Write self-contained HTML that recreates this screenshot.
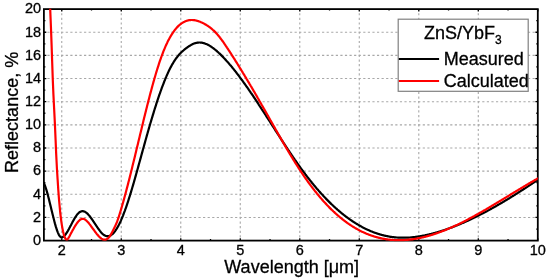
<!DOCTYPE html>
<html><head><meta charset="utf-8"><style>
html,body{margin:0;padding:0;background:#fff;}
svg{display:block;}
text{font-family:"Liberation Sans",Arial,sans-serif;fill:#000;stroke:#000;stroke-width:0.3px;}
</style></head><body>
<svg width="550" height="278" viewBox="0 0 550 278">
<defs><clipPath id="pc"><rect x="43.90" y="8.80" width="493.90" height="232.80"/></clipPath></defs>
<rect width="550" height="278" fill="#fff"/>
<g stroke="#a8a8a8" stroke-width="1.1" fill="none">
<line x1="61.75" y1="9.10" x2="61.75" y2="240.60" stroke-dasharray="2.20 2.430" stroke-dashoffset="0.600"/>
<line x1="121.26" y1="9.10" x2="121.26" y2="240.60" stroke-dasharray="2.20 2.430" stroke-dashoffset="0.600"/>
<line x1="180.76" y1="9.10" x2="180.76" y2="240.60" stroke-dasharray="2.20 2.430" stroke-dashoffset="0.600"/>
<line x1="240.27" y1="9.10" x2="240.27" y2="240.60" stroke-dasharray="2.20 2.430" stroke-dashoffset="0.600"/>
<line x1="299.78" y1="9.10" x2="299.78" y2="240.60" stroke-dasharray="2.20 2.430" stroke-dashoffset="0.600"/>
<line x1="359.28" y1="9.10" x2="359.28" y2="240.60" stroke-dasharray="2.20 2.430" stroke-dashoffset="0.600"/>
<line x1="418.79" y1="9.10" x2="418.79" y2="240.60" stroke-dasharray="2.20 2.430" stroke-dashoffset="0.600"/>
<line x1="478.29" y1="9.10" x2="478.29" y2="240.60" stroke-dasharray="2.20 2.430" stroke-dashoffset="0.600"/>
<line x1="43.90" y1="217.45" x2="537.80" y2="217.45" stroke-dasharray="2.20 2.377" stroke-dashoffset="1.058"/>
<line x1="43.90" y1="194.30" x2="537.80" y2="194.30" stroke-dasharray="2.20 2.377" stroke-dashoffset="1.058"/>
<line x1="43.90" y1="171.15" x2="537.80" y2="171.15" stroke-dasharray="2.20 2.377" stroke-dashoffset="1.058"/>
<line x1="43.90" y1="148.00" x2="537.80" y2="148.00" stroke-dasharray="2.20 2.377" stroke-dashoffset="1.058"/>
<line x1="43.90" y1="124.85" x2="537.80" y2="124.85" stroke-dasharray="2.20 2.377" stroke-dashoffset="1.058"/>
<line x1="43.90" y1="101.70" x2="537.80" y2="101.70" stroke-dasharray="2.20 2.377" stroke-dashoffset="1.058"/>
<line x1="43.90" y1="78.55" x2="537.80" y2="78.55" stroke-dasharray="2.20 2.377" stroke-dashoffset="1.058"/>
<line x1="43.90" y1="55.40" x2="537.80" y2="55.40" stroke-dasharray="2.20 2.377" stroke-dashoffset="1.058"/>
<line x1="43.90" y1="32.25" x2="537.80" y2="32.25" stroke-dasharray="2.20 2.377" stroke-dashoffset="1.058"/>
</g>
<path d="M61.75 240.60V238.20M61.75 9.10V11.50M91.50 240.60V239.10M91.50 9.10V10.60M121.26 240.60V238.20M121.26 9.10V11.50M151.01 240.60V239.10M151.01 9.10V10.60M180.76 240.60V238.20M180.76 9.10V11.50M210.52 240.60V239.10M210.52 9.10V10.60M240.27 240.60V238.20M240.27 9.10V11.50M270.02 240.60V239.10M270.02 9.10V10.60M299.78 240.60V238.20M299.78 9.10V11.50M329.53 240.60V239.10M329.53 9.10V10.60M359.28 240.60V238.20M359.28 9.10V11.50M389.03 240.60V239.10M389.03 9.10V10.60M418.79 240.60V238.20M418.79 9.10V11.50M448.54 240.60V239.10M448.54 9.10V10.60M478.29 240.60V238.20M478.29 9.10V11.50M508.05 240.60V239.10M508.05 9.10V10.60M537.80 240.60V238.20M537.80 9.10V11.50M43.90 229.03H45.40M537.80 229.03H536.30M43.90 217.45H46.30M537.80 217.45H535.40M43.90 205.88H45.40M537.80 205.88H536.30M43.90 194.30H46.30M537.80 194.30H535.40M43.90 182.72H45.40M537.80 182.72H536.30M43.90 171.15H46.30M537.80 171.15H535.40M43.90 159.57H45.40M537.80 159.57H536.30M43.90 148.00H46.30M537.80 148.00H535.40M43.90 136.43H45.40M537.80 136.43H536.30M43.90 124.85H46.30M537.80 124.85H535.40M43.90 113.27H45.40M537.80 113.27H536.30M43.90 101.70H46.30M537.80 101.70H535.40M43.90 90.12H45.40M537.80 90.12H536.30M43.90 78.55H46.30M537.80 78.55H535.40M43.90 66.97H45.40M537.80 66.97H536.30M43.90 55.40H46.30M537.80 55.40H535.40M43.90 43.82H45.40M537.80 43.82H536.30M43.90 32.25H46.30M537.80 32.25H535.40M43.90 20.67H45.40M537.80 20.67H536.30" stroke="#000" stroke-width="1.3" fill="none"/>
<rect x="43.90" y="9.10" width="493.90" height="231.50" fill="none" stroke="#000" stroke-width="1.8"/>
<g clip-path="url(#pc)" fill="none" stroke-linejoin="round" stroke-linecap="round">
<path d="M43.90 182.90L44.4 184.1L44.9 185.3L45.4 186.8L45.9 188.3L46.4 189.9L46.9 191.6L47.4 193.4L47.9 195.2L48.4 197.2L48.9 199.1L49.4 201.2L49.9 203.2L50.4 205.3L50.9 207.3L51.4 209.4L51.9 211.5L52.4 213.6L52.9 215.6L53.4 217.6L53.9 219.6L54.4 221.5L54.9 223.4L55.4 225.1L55.9 226.9L56.4 228.4L56.9 230.0L57.4 231.3L57.9 232.6L58.4 233.7L58.9 234.8L59.4 235.6L59.9 236.3L60.4 236.8L60.9 237.2L61.4 237.4L61.9 237.4L62.4 237.3L62.9 237.1L63.4 236.8L63.9 236.4L64.4 235.9L64.9 235.3L65.4 234.7L65.9 234.0L66.4 233.2L66.9 232.5L67.4 231.6L67.9 230.8L68.4 229.9L68.9 229.0L69.4 228.0L69.9 227.1L70.4 226.1L70.9 225.2L71.4 224.2L71.9 223.3L72.4 222.3L72.9 221.4L73.4 220.5L73.9 219.6L74.4 218.7L74.9 217.9L75.4 217.1L75.9 216.3L76.4 215.6L76.9 214.9L77.4 214.3L77.9 213.7L78.4 213.2L78.9 212.7L79.4 212.3L79.9 212.0L80.4 211.7L80.9 211.5L81.4 211.4L81.9 211.2L82.4 211.2L82.9 211.2L83.4 211.3L83.9 211.4L84.4 211.6L84.9 211.8L85.4 212.1L85.9 212.4L86.4 212.8L86.9 213.2L87.4 213.6L87.9 214.1L88.4 214.7L88.9 215.2L89.4 215.8L89.9 216.4L90.4 217.1L90.9 217.8L91.4 218.5L91.9 219.2L92.4 219.9L92.9 220.6L93.4 221.4L93.9 222.1L94.4 222.9L94.9 223.6L95.4 224.4L95.9 225.1L96.4 225.9L96.9 226.6L97.4 227.4L97.9 228.1L98.4 228.8L98.9 229.5L99.4 230.2L99.9 230.9L100.4 231.5L100.9 232.2L101.4 232.7L101.9 233.3L102.4 233.8L102.9 234.2L103.4 234.6L103.9 235.0L104.4 235.3L104.9 235.6L105.4 235.8L105.9 236.0L106.4 236.1L106.9 236.2L107.4 236.2L107.9 236.2L108.4 236.2L108.9 236.1L109.4 236.0L109.9 235.8L110.4 235.5L110.9 235.2L111.4 234.9L111.9 234.5L112.4 234.1L112.9 233.6L113.4 233.1L113.9 232.6L114.4 232.0L114.9 231.4L115.4 230.7L115.9 229.9L116.4 229.2L116.9 228.4L117.4 227.5L117.9 226.7L118.4 225.7L118.9 224.8L119.4 223.8L119.9 222.7L120.4 221.7L120.9 220.6L121.4 219.4L121.9 218.3L122.4 217.0L122.9 215.8L123.4 214.5L123.9 213.2L124.4 211.9L124.9 210.6L125.4 209.2L125.9 207.8L126.4 206.3L126.9 204.8L127.4 203.3L127.9 201.8L128.4 200.3L128.9 198.7L129.4 197.2L129.9 195.6L130.4 193.9L130.9 192.3L131.4 190.7L131.9 189.0L132.4 187.3L132.9 185.6L133.4 183.9L133.9 182.2L134.4 180.4L134.9 178.7L135.4 176.9L135.9 175.1L136.4 173.3L136.9 171.6L137.4 169.8L137.9 168.0L138.4 166.1L138.9 164.3L139.4 162.5L139.9 160.7L140.4 158.9L140.9 157.1L141.4 155.2L141.9 153.4L142.4 151.6L142.9 149.8L143.4 148.0L143.9 146.2L144.4 144.4L144.9 142.6L145.4 140.8L145.9 139.0L146.4 137.2L146.9 135.4L147.4 133.7L147.9 131.9L148.4 130.2L148.9 128.4L149.4 126.7L149.9 125.0L150.4 123.3L150.9 121.6L151.4 119.9L151.9 118.2L152.4 116.6L152.9 114.9L153.4 113.3L153.9 111.6L154.4 110.0L154.9 108.4L155.4 106.9L155.9 105.3L156.4 103.7L156.9 102.2L157.4 100.7L157.9 99.2L158.4 97.7L158.9 96.2L159.4 94.7L159.9 93.3L160.4 91.9L160.9 90.5L161.4 89.1L161.9 87.7L162.4 86.4L162.9 85.1L163.4 83.8L163.9 82.5L164.4 81.2L164.9 80.0L165.4 78.7L165.9 77.5L166.4 76.4L166.9 75.2L167.4 74.1L167.9 73.0L168.4 71.9L168.9 70.8L169.4 69.8L169.9 68.8L170.4 67.8L170.9 66.9L171.4 65.9L171.9 65.0L172.4 64.1L172.9 63.3L173.4 62.5L173.9 61.7L174.4 60.9L174.9 60.1L175.4 59.4L175.9 58.7L176.4 58.0L176.9 57.4L177.4 56.7L177.9 56.1L178.4 55.5L178.9 54.9L179.4 54.4L179.9 53.8L180.4 53.3L180.9 52.8L181.4 52.3L181.9 51.8L182.4 51.3L182.9 50.9L183.4 50.5L183.9 50.0L184.4 49.6L184.9 49.2L185.4 48.8L185.9 48.4L186.4 48.0L186.9 47.7L187.4 47.3L187.9 47.0L188.4 46.6L188.9 46.3L189.4 46.0L189.9 45.7L190.4 45.4L190.9 45.1L191.4 44.8L191.9 44.5L192.4 44.3L192.9 44.0L193.4 43.8L193.9 43.6L194.4 43.4L194.9 43.3L195.4 43.1L195.9 43.0L196.4 42.8L196.9 42.8L197.4 42.7L197.9 42.6L198.4 42.6L198.9 42.5L199.4 42.5L199.9 42.5L200.4 42.6L200.9 42.6L201.4 42.7L201.9 42.7L202.4 42.8L202.9 42.9L203.4 43.1L203.9 43.2L204.4 43.3L204.9 43.5L205.4 43.7L205.9 43.9L206.4 44.1L206.9 44.3L207.4 44.5L207.9 44.8L208.4 45.1L208.9 45.3L209.4 45.6L209.9 45.9L210.4 46.2L210.9 46.5L211.4 46.9L211.9 47.2L212.4 47.6L212.9 47.9L213.4 48.3L213.9 48.7L214.4 49.1L214.9 49.5L215.4 49.9L215.9 50.3L216.4 50.7L216.9 51.1L217.4 51.6L217.9 52.0L218.4 52.5L218.9 53.0L219.4 53.4L219.9 53.9L220.4 54.4L220.9 54.9L221.4 55.4L221.9 55.9L222.4 56.4L222.9 56.9L223.4 57.4L223.9 58.0L224.4 58.5L224.9 59.0L225.4 59.6L225.9 60.1L226.4 60.7L226.9 61.2L227.4 61.8L227.9 62.3L228.4 62.9L228.9 63.5L229.4 64.1L229.9 64.7L230.4 65.2L230.9 65.8L231.4 66.4L231.9 67.0L232.4 67.7L232.9 68.3L233.4 68.9L233.9 69.5L234.4 70.1L234.9 70.8L235.4 71.4L235.9 72.0L236.4 72.7L236.9 73.3L237.4 74.0L237.9 74.6L238.4 75.3L238.9 75.9L239.4 76.6L239.9 77.3L240.4 78.0L240.9 78.6L241.4 79.3L241.9 80.0L242.4 80.7L242.9 81.4L243.4 82.1L243.9 82.8L244.4 83.5L244.9 84.2L245.4 84.9L245.9 85.6L246.4 86.3L246.9 87.0L247.4 87.7L247.9 88.4L248.4 89.1L248.9 89.9L249.4 90.6L249.9 91.3L250.4 92.0L250.9 92.8L251.4 93.5L251.9 94.2L252.4 95.0L252.9 95.7L253.4 96.5L253.9 97.2L254.4 98.0L254.9 98.7L255.4 99.5L255.9 100.2L256.4 101.0L256.9 101.7L257.4 102.5L257.9 103.2L258.4 104.0L258.9 104.8L259.4 105.5L259.9 106.3L260.4 107.0L260.9 107.8L261.4 108.6L261.9 109.3L262.4 110.1L262.9 110.9L263.4 111.6L263.9 112.4L264.4 113.2L264.9 114.0L265.4 114.7L265.9 115.5L266.4 116.3L266.9 117.1L267.4 117.8L267.9 118.6L268.4 119.4L268.9 120.2L269.4 120.9L269.9 121.7L270.4 122.5L270.9 123.3L271.4 124.1L271.9 124.8L272.4 125.6L272.9 126.4L273.4 127.2L273.9 127.9L274.4 128.7L274.9 129.5L275.4 130.3L275.9 131.1L276.4 131.8L276.9 132.6L277.4 133.4L277.9 134.2L278.4 134.9L278.9 135.7L279.4 136.5L279.9 137.2L280.4 138.0L280.9 138.8L281.4 139.6L281.9 140.3L282.4 141.1L282.9 141.9L283.4 142.6L283.9 143.4L284.4 144.1L284.9 144.9L285.4 145.7L285.9 146.4L286.4 147.2L286.9 147.9L287.4 148.7L287.9 149.4L288.4 150.2L288.9 150.9L289.4 151.7L289.9 152.4L290.4 153.2L290.9 153.9L291.4 154.7L291.9 155.4L292.4 156.1L292.9 156.9L293.4 157.6L293.9 158.3L294.4 159.0L294.9 159.8L295.4 160.5L295.9 161.2L296.4 161.9L296.9 162.6L297.4 163.4L297.9 164.1L298.4 164.8L298.9 165.5L299.4 166.2L299.9 166.9L300.4 167.6L300.9 168.3L301.4 169.0L301.9 169.6L302.4 170.3L302.9 171.0L303.4 171.7L303.9 172.4L304.4 173.0L304.9 173.7L305.4 174.4L305.9 175.0L306.4 175.7L306.9 176.3L307.4 177.0L307.9 177.6L308.4 178.3L308.9 178.9L309.4 179.5L309.9 180.2L310.4 180.8L310.9 181.4L311.4 182.0L311.9 182.7L312.4 183.3L312.9 183.9L313.4 184.5L313.9 185.1L314.4 185.7L314.9 186.3L315.4 186.9L315.9 187.5L316.4 188.1L316.9 188.7L317.4 189.2L317.9 189.8L318.4 190.4L318.9 191.0L319.4 191.5L319.9 192.1L320.4 192.6L320.9 193.2L321.4 193.8L321.9 194.3L322.4 194.8L322.9 195.4L323.4 195.9L323.9 196.5L324.4 197.0L324.9 197.5L325.4 198.0L325.9 198.6L326.4 199.1L326.9 199.6L327.4 200.1L327.9 200.6L328.4 201.1L328.9 201.6L329.4 202.1L329.9 202.6L330.4 203.1L330.9 203.6L331.4 204.1L331.9 204.5L332.4 205.0L332.9 205.5L333.4 206.0L333.9 206.4L334.4 206.9L334.9 207.3L335.4 207.8L335.9 208.2L336.4 208.7L336.9 209.1L337.4 209.6L337.9 210.0L338.4 210.4L338.9 210.9L339.4 211.3L339.9 211.7L340.4 212.1L340.9 212.6L341.4 213.0L341.9 213.4L342.4 213.8L342.9 214.2L343.4 214.6L343.9 215.0L344.4 215.4L344.9 215.8L345.4 216.1L345.9 216.5L346.4 216.9L346.9 217.3L347.4 217.6L347.9 218.0L348.4 218.4L348.9 218.7L349.4 219.1L349.9 219.4L350.4 219.8L350.9 220.1L351.4 220.5L351.9 220.8L352.4 221.2L352.9 221.5L353.4 221.8L353.9 222.1L354.4 222.5L354.9 222.8L355.4 223.1L355.9 223.4L356.4 223.7L356.9 224.0L357.4 224.3L357.9 224.6L358.4 224.9L358.9 225.2L359.4 225.5L359.9 225.8L360.4 226.1L360.9 226.3L361.4 226.6L361.9 226.9L362.4 227.2L362.9 227.4L363.4 227.7L363.9 227.9L364.4 228.2L364.9 228.4L365.4 228.7L365.9 228.9L366.4 229.2L366.9 229.4L367.4 229.6L367.9 229.9L368.4 230.1L368.9 230.3L369.4 230.5L369.9 230.8L370.4 231.0L370.9 231.2L371.4 231.4L371.9 231.6L372.4 231.8L372.9 232.0L373.4 232.2L373.9 232.4L374.4 232.6L374.9 232.7L375.4 232.9L375.9 233.1L376.4 233.3L376.9 233.4L377.4 233.6L377.9 233.8L378.4 233.9L378.9 234.1L379.4 234.2L379.9 234.4L380.4 234.5L380.9 234.7L381.4 234.8L381.9 235.0L382.4 235.1L382.9 235.2L383.4 235.3L383.9 235.5L384.4 235.6L384.9 235.7L385.4 235.8L385.9 235.9L386.4 236.0L386.9 236.1L387.4 236.2L387.9 236.3L388.4 236.4L388.9 236.5L389.4 236.6L389.9 236.7L390.4 236.8L390.9 236.8L391.4 236.9L391.9 237.0L392.4 237.1L392.9 237.1L393.4 237.2L393.9 237.2L394.4 237.3L394.9 237.3L395.4 237.4L395.9 237.4L396.4 237.5L396.9 237.5L397.4 237.5L397.9 237.6L398.4 237.6L398.9 237.6L399.4 237.7L399.9 237.7L400.4 237.7L400.9 237.7L401.4 237.7L401.9 237.7L402.4 237.7L402.9 237.7L403.4 237.7L403.9 237.7L404.4 237.7L404.9 237.7L405.4 237.7L405.9 237.7L406.4 237.7L406.9 237.7L407.4 237.6L407.9 237.6L408.4 237.6L408.9 237.6L409.4 237.5L409.9 237.5L410.4 237.5L410.9 237.4L411.4 237.4L411.9 237.3L412.4 237.3L412.9 237.2L413.4 237.2L413.9 237.1L414.4 237.1L414.9 237.0L415.4 236.9L415.9 236.9L416.4 236.8L416.9 236.7L417.4 236.7L417.9 236.6L418.4 236.5L418.9 236.4L419.4 236.4L419.9 236.3L420.4 236.2L420.9 236.1L421.4 236.0L421.9 235.9L422.4 235.8L422.9 235.7L423.4 235.7L423.9 235.6L424.4 235.5L424.9 235.4L425.4 235.2L425.9 235.1L426.4 235.0L426.9 234.9L427.4 234.8L427.9 234.7L428.4 234.6L428.9 234.5L429.4 234.3L429.9 234.2L430.4 234.1L430.9 234.0L431.4 233.9L431.9 233.7L432.4 233.6L432.9 233.5L433.4 233.3L433.9 233.2L434.4 233.1L434.9 232.9L435.4 232.8L435.9 232.6L436.4 232.5L436.9 232.4L437.4 232.2L437.9 232.1L438.4 231.9L438.9 231.8L439.4 231.6L439.9 231.5L440.4 231.3L440.9 231.2L441.4 231.0L441.9 230.8L442.4 230.7L442.9 230.5L443.4 230.4L443.9 230.2L444.4 230.0L444.9 229.9L445.4 229.7L445.9 229.5L446.4 229.3L446.9 229.2L447.4 229.0L447.9 228.8L448.4 228.6L448.9 228.5L449.4 228.3L449.9 228.1L450.4 227.9L450.9 227.7L451.4 227.5L451.9 227.4L452.4 227.2L452.9 227.0L453.4 226.8L453.9 226.6L454.4 226.4L454.9 226.2L455.4 226.0L455.9 225.8L456.4 225.6L456.9 225.4L457.4 225.2L457.9 225.0L458.4 224.8L458.9 224.6L459.4 224.4L459.9 224.2L460.4 224.0L460.9 223.8L461.4 223.5L461.9 223.3L462.4 223.1L462.9 222.9L463.4 222.7L463.9 222.5L464.4 222.2L464.9 222.0L465.4 221.8L465.9 221.6L466.4 221.4L466.9 221.1L467.4 220.9L467.9 220.7L468.4 220.4L468.9 220.2L469.4 220.0L469.9 219.7L470.4 219.5L470.9 219.3L471.4 219.0L471.9 218.8L472.4 218.6L472.9 218.3L473.4 218.1L473.9 217.8L474.4 217.6L474.9 217.4L475.4 217.1L475.9 216.9L476.4 216.6L476.9 216.4L477.4 216.1L477.9 215.9L478.4 215.6L478.9 215.4L479.4 215.1L479.9 214.8L480.4 214.6L480.9 214.3L481.4 214.1L481.9 213.8L482.4 213.6L482.9 213.3L483.4 213.0L483.9 212.8L484.4 212.5L484.9 212.2L485.4 212.0L485.9 211.7L486.4 211.4L486.9 211.2L487.4 210.9L487.9 210.6L488.4 210.4L488.9 210.1L489.4 209.8L489.9 209.5L490.4 209.3L490.9 209.0L491.4 208.7L491.9 208.4L492.4 208.1L492.9 207.9L493.4 207.6L493.9 207.3L494.4 207.0L494.9 206.7L495.4 206.5L495.9 206.2L496.4 205.9L496.9 205.6L497.4 205.3L497.9 205.0L498.4 204.7L498.9 204.4L499.4 204.1L499.9 203.9L500.4 203.6L500.9 203.3L501.4 203.0L501.9 202.7L502.4 202.4L502.9 202.1L503.4 201.8L503.9 201.5L504.4 201.2L504.9 200.9L505.4 200.6L505.9 200.3L506.4 200.0L506.9 199.7L507.4 199.4L507.9 199.1L508.4 198.8L508.9 198.5L509.4 198.2L509.9 197.9L510.4 197.5L510.9 197.2L511.4 196.9L511.9 196.6L512.4 196.3L512.9 196.0L513.4 195.7L513.9 195.4L514.4 195.1L514.9 194.8L515.4 194.4L515.9 194.1L516.4 193.8L516.9 193.5L517.4 193.2L517.9 192.9L518.4 192.5L518.9 192.2L519.4 191.9L519.9 191.6L520.4 191.3L520.9 190.9L521.4 190.6L521.9 190.3L522.4 190.0L522.9 189.7L523.4 189.3L523.9 189.0L524.4 188.7L524.9 188.4L525.4 188.0L525.9 187.7L526.4 187.4L526.9 187.1L527.4 186.7L527.9 186.4L528.4 186.1L528.9 185.7L529.4 185.4L529.9 185.1L530.4 184.8L530.9 184.4L531.4 184.1L531.9 183.8L532.4 183.4L532.9 183.1L533.4 182.8L533.9 182.4L534.4 182.1L534.9 181.8L535.4 181.4L535.9 181.1L536.4 180.8L536.9 180.4L537.5 180.1L537.9 179.8L538.0 179.7L538.0 179.7" stroke="#000" stroke-width="2.2"/>
<path d="M49.60 -5.00L49.9 1.6L50.2 9.0L50.9 26.0L51.6 45.0L52.2 62.8L52.8 80.0L53.4 94.1L54.1 108.0L54.9 124.0L55.6 140.0L56.2 154.3L56.9 168.0L57.6 179.3L58.3 190.0L59.0 199.4L59.8 208.0L60.3 213.3L60.9 218.0L61.4 222.1L62.0 225.9L62.5 228.7L63.0 231.2L63.5 233.3L64.0 235.2L64.5 236.7L65.0 237.9L65.5 238.7L66.0 239.3L66.5 239.5L67.0 239.5L67.5 239.2L68.0 238.6L68.5 237.9L69.0 237.1L69.5 236.2L70.0 235.2L70.5 234.3L71.0 233.3L71.5 232.4L72.0 231.5L72.5 230.5L73.0 229.6L73.5 228.8L74.0 227.9L74.5 227.0L75.0 226.2L75.5 225.4L76.0 224.6L76.5 223.9L77.0 223.2L77.5 222.5L78.0 221.8L78.5 221.3L79.0 220.7L79.5 220.3L80.0 219.8L80.5 219.5L81.0 219.2L81.5 219.0L82.0 218.8L82.5 218.8L83.0 218.8L83.5 218.9L84.0 219.0L84.5 219.2L85.0 219.5L85.5 219.9L86.0 220.2L86.5 220.7L87.0 221.2L87.5 221.7L88.0 222.2L88.5 222.8L89.0 223.4L89.5 224.1L90.0 224.7L90.5 225.4L91.0 226.1L91.5 226.8L92.0 227.5L92.5 228.2L93.0 228.8L93.5 229.5L94.0 230.2L94.5 230.9L95.0 231.6L95.5 232.3L96.0 232.9L96.5 233.6L97.0 234.2L97.5 234.8L98.0 235.4L98.5 235.9L99.0 236.5L99.5 237.0L100.0 237.4L100.5 237.9L101.0 238.2L101.5 238.6L102.0 238.9L102.5 239.2L103.0 239.4L103.5 239.5L104.0 239.6L104.5 239.7L105.0 239.7L105.5 239.6L106.0 239.5L106.5 239.3L107.0 239.1L107.5 238.7L108.0 238.3L108.5 237.9L109.0 237.3L109.5 236.7L110.0 236.0L110.5 235.2L111.0 234.3L111.5 233.4L112.0 232.4L112.5 231.4L113.0 230.4L113.5 229.4L114.0 228.4L114.5 227.4L115.0 226.5L115.5 225.4L116.0 224.3L116.5 223.1L117.0 221.9L117.5 220.5L118.0 219.1L118.5 217.6L119.0 216.1L119.5 214.5L120.0 212.9L120.5 211.2L121.0 209.6L121.5 207.9L122.0 206.2L122.5 204.4L123.0 202.7L123.5 200.9L124.0 199.1L124.5 197.3L125.0 195.5L125.5 193.6L126.0 191.7L126.5 189.8L127.0 187.9L127.5 186.0L128.0 184.1L128.5 182.1L129.0 180.2L129.5 178.2L130.0 176.2L130.5 174.2L131.0 172.2L131.5 170.2L132.0 168.2L132.5 166.1L133.0 164.1L133.5 162.1L134.0 160.0L134.5 157.9L135.0 155.9L135.5 153.8L136.0 151.7L136.5 149.6L137.0 147.6L137.5 145.5L138.0 143.4L138.5 141.3L139.0 139.2L139.5 137.2L140.0 135.1L140.5 133.0L141.0 130.9L141.5 128.9L142.0 126.8L142.5 124.7L143.0 122.7L143.5 120.6L144.0 118.6L144.5 116.5L145.0 114.5L145.5 112.5L146.0 110.5L146.5 108.5L147.0 106.5L147.5 104.5L148.0 102.6L148.5 100.6L149.0 98.7L149.5 96.7L150.0 94.8L150.5 92.9L151.0 91.1L151.5 89.2L152.0 87.4L152.5 85.5L153.0 83.7L153.5 81.9L154.0 80.2L154.5 78.4L155.0 76.7L155.5 75.0L156.0 73.3L156.5 71.7L157.0 70.0L157.5 68.4L158.0 66.8L158.5 65.3L159.0 63.7L159.5 62.2L160.0 60.7L160.5 59.3L161.0 57.9L161.5 56.5L162.0 55.1L162.5 53.8L163.0 52.5L163.5 51.2L164.0 50.0L164.5 48.8L165.0 47.6L165.5 46.4L166.0 45.3L166.5 44.2L167.0 43.2L167.5 42.1L168.0 41.1L168.5 40.1L169.0 39.2L169.5 38.3L170.0 37.4L170.5 36.5L171.0 35.6L171.5 34.8L172.0 34.0L172.5 33.3L173.0 32.5L173.5 31.8L174.0 31.1L174.5 30.4L175.0 29.8L175.5 29.2L176.0 28.5L176.5 28.0L177.0 27.4L177.5 26.9L178.0 26.4L178.5 25.9L179.0 25.4L179.5 25.0L180.0 24.6L180.5 24.2L181.0 23.8L181.5 23.4L182.0 23.1L182.5 22.7L183.0 22.4L183.5 22.2L184.0 21.9L184.5 21.7L185.0 21.4L185.5 21.2L186.0 21.0L186.5 20.9L187.0 20.7L187.5 20.6L188.0 20.4L188.5 20.3L189.0 20.2L189.5 20.2L190.0 20.1L190.5 20.1L191.0 20.0L191.5 20.0L192.0 20.0L192.5 20.0L193.0 20.1L193.5 20.1L194.0 20.2L194.5 20.2L195.0 20.3L195.5 20.4L196.0 20.5L196.5 20.6L197.0 20.8L197.5 20.9L198.0 21.1L198.5 21.2L199.0 21.4L199.5 21.6L200.0 21.8L200.5 22.0L201.0 22.2L201.5 22.4L202.0 22.6L202.5 22.9L203.0 23.1L203.5 23.4L204.0 23.6L204.5 23.9L205.0 24.2L205.5 24.5L206.0 24.8L206.5 25.1L207.0 25.4L207.5 25.7L208.0 26.0L208.5 26.4L209.0 26.7L209.5 27.1L210.0 27.5L210.5 27.8L211.0 28.2L211.5 28.7L212.0 29.1L212.5 29.5L213.0 30.0L213.5 30.4L214.0 30.9L214.5 31.4L215.0 31.9L215.5 32.4L216.0 32.9L216.5 33.5L217.0 34.0L217.5 34.6L218.0 35.2L218.5 35.8L219.0 36.4L219.5 37.0L220.0 37.7L220.5 38.3L221.0 39.0L221.5 39.6L222.0 40.3L222.5 41.0L223.0 41.7L223.5 42.4L224.0 43.1L224.5 43.9L225.0 44.6L225.5 45.3L226.0 46.1L226.5 46.8L227.0 47.6L227.5 48.3L228.0 49.1L228.5 49.9L229.0 50.6L229.5 51.4L230.0 52.2L230.5 53.0L231.0 53.7L231.5 54.5L232.0 55.3L232.5 56.1L233.0 56.9L233.5 57.7L234.0 58.4L234.5 59.2L235.0 60.0L235.5 60.8L236.0 61.6L236.5 62.4L237.0 63.2L237.5 64.0L238.0 64.8L238.5 65.6L239.0 66.4L239.5 67.3L240.0 68.1L240.5 68.9L241.0 69.7L241.5 70.5L242.0 71.3L242.5 72.1L243.0 73.0L243.5 73.8L244.0 74.6L244.5 75.4L245.0 76.3L245.5 77.1L246.0 77.9L246.5 78.8L247.0 79.6L247.5 80.4L248.0 81.3L248.5 82.1L249.0 82.9L249.5 83.8L250.0 84.6L250.5 85.5L251.0 86.3L251.5 87.2L252.0 88.0L252.5 88.9L253.0 89.7L253.5 90.6L254.0 91.4L254.5 92.3L255.0 93.2L255.5 94.0L256.0 94.9L256.5 95.7L257.0 96.6L257.5 97.5L258.0 98.3L258.5 99.2L259.0 100.1L259.5 101.0L260.0 101.8L260.5 102.7L261.0 103.6L261.5 104.5L262.0 105.3L262.5 106.2L263.0 107.1L263.5 108.0L264.0 108.9L264.5 109.7L265.0 110.6L265.5 111.5L266.0 112.4L266.5 113.3L267.0 114.2L267.5 115.0L268.0 115.9L268.5 116.8L269.0 117.7L269.5 118.6L270.0 119.5L270.5 120.4L271.0 121.2L271.5 122.1L272.0 123.0L272.5 123.9L273.0 124.8L273.5 125.7L274.0 126.5L274.5 127.4L275.0 128.3L275.5 129.2L276.0 130.1L276.5 130.9L277.0 131.8L277.5 132.7L278.0 133.6L278.5 134.5L279.0 135.3L279.5 136.2L280.0 137.1L280.5 137.9L281.0 138.8L281.5 139.7L282.0 140.5L282.5 141.4L283.0 142.3L283.5 143.1L284.0 144.0L284.5 144.8L285.0 145.7L285.5 146.6L286.0 147.4L286.5 148.3L287.0 149.1L287.5 149.9L288.0 150.8L288.5 151.6L289.0 152.5L289.5 153.3L290.0 154.1L290.5 155.0L291.0 155.8L291.5 156.6L292.0 157.4L292.5 158.2L293.0 159.1L293.5 159.9L294.0 160.7L294.5 161.5L295.0 162.3L295.5 163.1L296.0 163.9L296.5 164.7L297.0 165.5L297.5 166.2L298.0 167.0L298.5 167.8L299.0 168.6L299.5 169.3L300.0 170.1L300.5 170.9L301.0 171.6L301.5 172.4L302.0 173.1L302.5 173.9L303.0 174.6L303.5 175.4L304.0 176.1L304.5 176.8L305.0 177.5L305.5 178.3L306.0 179.0L306.5 179.7L307.0 180.4L307.5 181.1L308.0 181.8L308.5 182.5L309.0 183.2L309.5 183.8L310.0 184.5L310.5 185.2L311.0 185.9L311.5 186.5L312.0 187.2L312.5 187.8L313.0 188.5L313.5 189.1L314.0 189.8L314.5 190.4L315.0 191.1L315.5 191.7L316.0 192.3L316.5 192.9L317.0 193.6L317.5 194.2L318.0 194.8L318.5 195.4L319.0 196.0L319.5 196.6L320.0 197.2L320.5 197.8L321.0 198.3L321.5 198.9L322.0 199.5L322.5 200.1L323.0 200.6L323.5 201.2L324.0 201.7L324.5 202.3L325.0 202.8L325.5 203.4L326.0 203.9L326.5 204.4L327.0 205.0L327.5 205.5L328.0 206.0L328.5 206.5L329.0 207.1L329.5 207.6L330.0 208.1L330.5 208.6L331.0 209.1L331.5 209.6L332.0 210.0L332.5 210.5L333.0 211.0L333.5 211.5L334.0 211.9L334.5 212.4L335.0 212.9L335.5 213.3L336.0 213.8L336.5 214.2L337.0 214.7L337.5 215.1L338.0 215.6L338.5 216.0L339.0 216.4L339.5 216.8L340.0 217.3L340.5 217.7L341.0 218.1L341.5 218.5L342.0 218.9L342.5 219.3L343.0 219.7L343.5 220.1L344.0 220.5L344.5 220.8L345.0 221.2L345.5 221.6L346.0 222.0L346.5 222.3L347.0 222.7L347.5 223.0L348.0 223.4L348.5 223.7L349.0 224.1L349.5 224.4L350.0 224.8L350.5 225.1L351.0 225.4L351.5 225.7L352.0 226.1L352.5 226.4L353.0 226.7L353.5 227.0L354.0 227.3L354.5 227.6L355.0 227.9L355.5 228.2L356.0 228.5L356.5 228.8L357.0 229.1L357.5 229.3L358.0 229.6L358.5 229.9L359.0 230.1L359.5 230.4L360.0 230.7L360.5 230.9L361.0 231.2L361.5 231.4L362.0 231.7L362.5 231.9L363.0 232.1L363.5 232.4L364.0 232.6L364.5 232.8L365.0 233.0L365.5 233.3L366.0 233.5L366.5 233.7L367.0 233.9L367.5 234.1L368.0 234.3L368.5 234.5L369.0 234.7L369.5 234.9L370.0 235.0L370.5 235.2L371.0 235.4L371.5 235.6L372.0 235.8L372.5 235.9L373.0 236.1L373.5 236.2L374.0 236.4L374.5 236.6L375.0 236.7L375.5 236.9L376.0 237.0L376.5 237.1L377.0 237.3L377.5 237.4L378.0 237.5L378.5 237.7L379.0 237.8L379.5 237.9L380.0 238.0L380.5 238.1L381.0 238.3L381.5 238.4L382.0 238.5L382.5 238.6L383.0 238.7L383.5 238.8L384.0 238.9L384.5 238.9L385.0 239.0L385.5 239.1L386.0 239.2L386.5 239.3L387.0 239.3L387.5 239.4L388.0 239.5L388.5 239.5L389.0 239.6L389.5 239.7L390.0 239.7L390.5 239.8L391.0 239.8L391.5 239.9L392.0 239.9L392.5 239.9L393.0 240.0L393.5 240.0L394.0 240.0L394.5 240.1L395.0 240.1L395.5 240.1L396.0 240.1L396.5 240.2L397.0 240.2L397.5 240.2L398.0 240.2L398.5 240.2L399.0 240.2L399.5 240.2L400.0 240.2L400.5 240.2L401.0 240.2L401.5 240.2L402.0 240.2L402.5 240.1L403.0 240.1L403.5 240.1L404.0 240.1L404.5 240.0L405.0 240.0L405.5 240.0L406.0 239.9L406.5 239.9L407.0 239.9L407.5 239.8L408.0 239.8L408.5 239.7L409.0 239.7L409.5 239.6L410.0 239.6L410.5 239.5L411.0 239.4L411.5 239.4L412.0 239.3L412.5 239.3L413.0 239.2L413.5 239.1L414.0 239.0L414.5 239.0L415.0 238.9L415.5 238.8L416.0 238.7L416.5 238.6L417.0 238.5L417.5 238.4L418.0 238.3L418.5 238.2L419.0 238.1L419.5 238.0L420.0 237.9L420.5 237.8L421.0 237.7L421.5 237.6L422.0 237.5L422.5 237.4L423.0 237.3L423.5 237.2L424.0 237.0L424.5 236.9L425.0 236.8L425.5 236.7L426.0 236.5L426.5 236.4L427.0 236.3L427.5 236.1L428.0 236.0L428.5 235.8L429.0 235.7L429.5 235.6L430.0 235.4L430.5 235.3L431.0 235.1L431.5 235.0L432.0 234.8L432.5 234.7L433.0 234.5L433.5 234.3L434.0 234.2L434.5 234.0L435.0 233.8L435.5 233.7L436.0 233.5L436.5 233.3L437.0 233.2L437.5 233.0L438.0 232.8L438.5 232.6L439.0 232.5L439.5 232.3L440.0 232.1L440.5 231.9L441.0 231.7L441.5 231.5L442.0 231.3L442.5 231.1L443.0 231.0L443.5 230.8L444.0 230.6L444.5 230.4L445.0 230.2L445.5 230.0L446.0 229.8L446.5 229.5L447.0 229.3L447.5 229.1L448.0 228.9L448.5 228.7L449.0 228.5L449.5 228.3L450.0 228.1L450.5 227.8L451.0 227.6L451.5 227.4L452.0 227.2L452.5 227.0L453.0 226.7L453.5 226.5L454.0 226.3L454.5 226.1L455.0 225.8L455.5 225.6L456.0 225.4L456.5 225.1L457.0 224.9L457.5 224.7L458.0 224.4L458.5 224.2L459.0 223.9L459.5 223.7L460.0 223.4L460.5 223.2L461.0 223.0L461.5 222.7L462.0 222.5L462.5 222.2L463.0 222.0L463.5 221.7L464.0 221.5L464.5 221.2L465.0 220.9L465.5 220.7L466.0 220.4L466.5 220.2L467.0 219.9L467.5 219.7L468.0 219.4L468.5 219.1L469.0 218.9L469.5 218.6L470.0 218.3L470.5 218.1L471.0 217.8L471.5 217.5L472.0 217.3L472.5 217.0L473.0 216.7L473.5 216.4L474.0 216.2L474.5 215.9L475.0 215.6L475.5 215.3L476.0 215.1L476.5 214.8L477.0 214.5L477.5 214.2L478.0 214.0L478.5 213.7L479.0 213.4L479.5 213.1L480.0 212.8L480.5 212.5L481.0 212.3L481.5 212.0L482.0 211.7L482.5 211.4L483.0 211.1L483.5 210.8L484.0 210.5L484.5 210.2L485.0 210.0L485.5 209.7L486.0 209.4L486.5 209.1L487.0 208.8L487.5 208.5L488.0 208.2L488.5 207.9L489.0 207.6L489.5 207.3L490.0 207.0L490.5 206.7L491.0 206.4L491.5 206.1L492.0 205.8L492.5 205.5L493.0 205.2L493.5 204.9L494.0 204.6L494.5 204.3L495.0 204.0L495.5 203.7L496.0 203.4L496.5 203.1L497.0 202.8L497.5 202.5L498.0 202.2L498.5 201.9L499.0 201.6L499.5 201.3L500.0 201.0L500.5 200.7L501.0 200.4L501.5 200.1L502.0 199.8L502.5 199.5L503.0 199.2L503.5 198.9L504.0 198.6L504.5 198.3L505.0 198.0L505.5 197.7L506.0 197.4L506.5 197.1L507.0 196.8L507.5 196.5L508.0 196.2L508.5 195.9L509.0 195.6L509.5 195.3L510.0 195.0L510.5 194.6L511.0 194.3L511.5 194.0L512.0 193.7L512.5 193.4L513.0 193.1L513.5 192.8L514.0 192.5L514.5 192.2L515.0 191.9L515.5 191.6L516.0 191.3L516.5 191.0L517.0 190.7L517.5 190.4L518.0 190.1L518.5 189.8L519.0 189.5L519.5 189.2L520.0 188.9L520.5 188.6L521.0 188.3L521.5 188.0L522.0 187.7L522.5 187.4L523.0 187.1L523.5 186.8L524.0 186.5L524.5 186.2L525.0 185.9L525.5 185.6L526.0 185.3L526.5 185.0L527.0 184.7L527.5 184.4L528.0 184.1L528.5 183.8L529.0 183.5L529.5 183.2L530.0 182.9L530.5 182.6L531.0 182.3L531.5 182.0L532.0 181.8L532.5 181.5L533.0 181.2L533.5 180.9L534.0 180.6L534.5 180.3L535.0 180.0L535.5 179.7L536.0 179.4L536.5 179.2L537.0 178.9L537.5 178.6L538.0 178.3" stroke="#ff0000" stroke-width="2.2"/>
</g>
<g font-size="14.5">
<text x="61.75" y="254.6" text-anchor="middle">2</text>
<text x="121.26" y="254.6" text-anchor="middle">3</text>
<text x="180.76" y="254.6" text-anchor="middle">4</text>
<text x="240.27" y="254.6" text-anchor="middle">5</text>
<text x="299.78" y="254.6" text-anchor="middle">6</text>
<text x="359.28" y="254.6" text-anchor="middle">7</text>
<text x="418.79" y="254.6" text-anchor="middle">8</text>
<text x="478.29" y="254.6" text-anchor="middle">9</text>
<text x="537.80" y="254.6" text-anchor="middle">10</text>
<text x="41.2" y="244.90" text-anchor="end">0</text>
<text x="41.2" y="221.75" text-anchor="end">2</text>
<text x="41.2" y="198.60" text-anchor="end">4</text>
<text x="41.2" y="175.45" text-anchor="end">6</text>
<text x="41.2" y="152.30" text-anchor="end">8</text>
<text x="41.2" y="129.15" text-anchor="end">10</text>
<text x="41.2" y="106.00" text-anchor="end">12</text>
<text x="41.2" y="82.85" text-anchor="end">14</text>
<text x="41.2" y="59.70" text-anchor="end">16</text>
<text x="41.2" y="36.55" text-anchor="end">18</text>
<text x="41.2" y="13.40" text-anchor="end">20</text>
</g>
<text x="224.3" y="273.3" font-size="18">Wavelength [μm]</text>
<text transform="translate(18.4 172.9) rotate(-90)" font-size="18">Reflectance, %</text>
<rect x="398.2" y="19.2" width="130" height="72.1" fill="#fff" stroke="#808080" stroke-width="1.2"/>
<text x="424.0" y="38.7" font-size="18">ZnS/YbF<tspan font-size="12" dy="5.3">3</tspan></text>
<line x1="398.8" y1="59" x2="439.1" y2="59" stroke="#000" stroke-width="2.2"/>
<line x1="398.8" y1="81" x2="439.1" y2="81" stroke="#ff0000" stroke-width="2.2"/>
<text x="443.8" y="64.7" font-size="18">Measured</text>
<text x="443.8" y="87" font-size="18">Calculated</text>
</svg>
</body></html>
